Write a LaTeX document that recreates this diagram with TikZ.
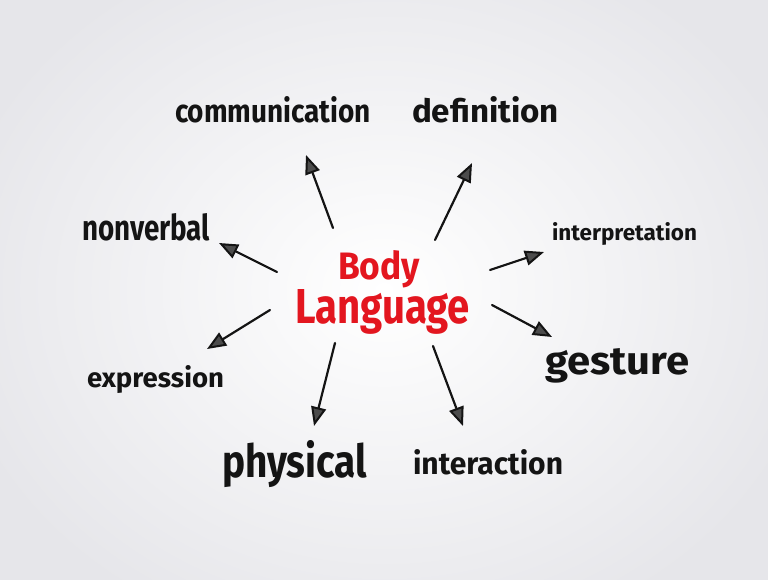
\documentclass[tikz,border=0pt]{standalone}
\usepackage{fontspec}
\setmainfont{Fira Sans}
\usepackage{graphicx}
\usetikzlibrary{arrows.meta}
\definecolor{bodyred}{HTML}{E3161F}
\definecolor{ink}{HTML}{141414}
\definecolor{edgegray}{HTML}{E6E6EA}
\tikzset{
  word/.style={anchor=base west, inner sep=0pt, outer sep=0pt, text=ink, font=\bfseries},
  title/.style={anchor=base west, inner sep=0pt, outer sep=0pt, text=bodyred, font=\bfseries},
  pointer/.style={draw=ink, line width=2.2pt, line cap=round,
    -{Triangle[length=19pt, width=15pt, line width=2pt, fill=black!70]}},
}
\newcommand{\fitwh}[3]{\resizebox{#1pt}{#2pt}{#3}}
\begin{document}
\begin{tikzpicture}[x=1pt, y=-1pt]
  \useasboundingbox (0,0) rectangle (768,580);
  \begin{scope}
    \clip (0,0) rectangle (768,580);
    \shade[shading=radial, inner color=white, outer color=edgegray] (-60,-80) rectangle (828,660);
  \end{scope}
  % centre words
  \node[title] (body) at (338,279) {\fitwh{82}{29}{Body}};
  \node[title] (lang) at (295,323) {\fitwh{175}{34}{Language}};
  % outer words
  \node[word] (comm) at (175,123) {\fitwh{196}{26}{communication}};
  \node[word] (defi) at (412,123) {\fitwh{147}{26}{definition}};
  \node[word] (nonv) at (82,240) {\fitwh{128}{27}{nonverbal}};
  \node[word] (intp) at (552,240) {\fitwh{145}{18}{interpretation}};
  \node[word] (expr) at (87,387) {\fitwh{137}{22}{expression}};
  \node[word] (gest) at (545,374) {\fitwh{144}{26}{gesture}};
  \node[word] (phys) at (222,477) {\fitwh{145}{37}{physical}};
  \node[word] (intr) at (413,474) {\fitwh{150}{25}{interaction}};
  % arrow ends
  \coordinate (c1) at (333,228); \coordinate (h1) at (306,155);
  \coordinate (c2) at (435,240); \coordinate (h2) at (472,163);
  \coordinate (c3) at (277,272); \coordinate (h3) at (219,243);
  \coordinate (c4) at (270,310); \coordinate (h4) at (207,349);
  \coordinate (c5) at (490,270); \coordinate (h5) at (544,252);
  \coordinate (c6) at (492,305); \coordinate (h6) at (552,337);
  \coordinate (c7) at (335,343); \coordinate (h7) at (314,426);
  \coordinate (c8) at (433,346); \coordinate (h8) at (463,426);
  \draw[pointer] (c1) -- (h1);
  \draw[pointer] (c2) -- (h2);
  \draw[pointer] (c3) -- (h3);
  \draw[pointer] (c4) -- (h4);
  \draw[pointer] (c5) -- (h5);
  \draw[pointer] (c6) -- (h6);
  \draw[pointer] (c7) -- (h7);
  \draw[pointer] (c8) -- (h8);
\end{tikzpicture}
\end{document}
